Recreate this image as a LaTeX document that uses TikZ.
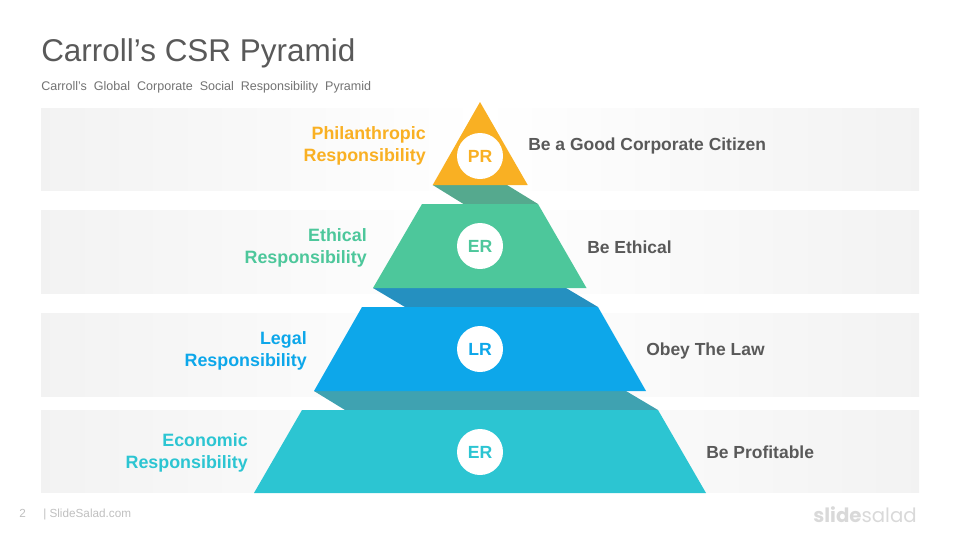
\documentclass[tikz,border=0pt]{standalone}
\usepackage{fontspec}
\setmainfont{Liberation Sans}
\newfontfamily\logofont{Poppins}
\definecolor{prcolor}{HTML}{F9B023}
\definecolor{ercolor}{HTML}{4DC79B}
\definecolor{lrcolor}{HTML}{0DA7EA}
\definecolor{eccolor}{HTML}{2CC5D2}
\definecolor{txtgray}{HTML}{595959}
\tikzset{
	band/.style={left color=black!5, right color=black!5, middle color=white, draw=none},
	badge/.style={circle, fill=white, minimum size=34.5pt, inner sep=0pt, font=\fontsize{13.2}{16}\selectfont\bfseries},
	lefttext/.style={anchor=east, align=right, inner sep=0pt, font=\fontsize{13.4}{16.5}\selectfont\bfseries},
	righttext/.style={anchor=west, inner sep=0pt, text=txtgray, font=\fontsize{13.1}{16}\selectfont\bfseries}
}

\begin{document}
\begin{tikzpicture}[x=0.75pt, y=-0.75pt]
	%%%%% START %%%%%
	\useasboundingbox (0, 0) rectangle (960, 540);
	
	\node[anchor=west, inner sep=0pt, text=txtgray, font=\fontsize{23.6}{28}\selectfont] (title) at (41, 53) {Carroll's CSR Pyramid};
	\node[anchor=west, inner sep=0pt, text=txtgray!85, font=\fontsize{9.4}{11}\selectfont] (subtitle) at (41, 87) {Carroll's\ \ Global\ \ Corporate\ \ Social\ \ Responsibility\ \ Pyramid};
	
	\fill[band] (41, 108) rectangle (919, 190.6);
	\fill[band] (41, 210) rectangle (919, 293.6);
	\fill[band] (41, 313) rectangle (919, 396.6);
	\fill[band] (41, 410) rectangle (919, 492.6);
	
	\fill[color={rgb,255:red,85;green,169;blue,142}] (432.7, 185) -- (463.5, 204) -- (538, 204) -- (507, 185) -- cycle;
	\fill[color={rgb,255:red,37;green,144;blue,192}] (373, 288) -- (405, 307) -- (598, 307) -- (566, 288) -- cycle;
	\fill[color={rgb,255:red,63;green,162;blue,177}] (314, 391) -- (345, 410) -- (658, 410) -- (626, 391) -- cycle;
	
	\fill[prcolor] (480, 102) -- (527.7, 185) -- (432.7, 185) -- cycle;
	\fill[ercolor] (422, 204) -- (538, 204) -- (586.5, 288) -- (373, 288) -- cycle;
	\fill[lrcolor] (362, 307) -- (598, 307) -- (646, 391) -- (314, 391) -- cycle;
	\fill[eccolor] (302, 410) -- (658, 410) -- (706, 493) -- (254, 493) -- cycle;
	
	\node[badge, text=prcolor] (pr) at (480, 156) {PR};
	\node[badge, text=ercolor] (er) at (480, 246) {ER};
	\node[badge, text=lrcolor] (lr) at (480, 349) {LR};
	\node[badge, text=eccolor] (ec) at (480, 452) {ER};
	
	\node[lefttext, text=prcolor] (prtext) at (426, 146) {Philanthropic\\Responsibility};
	\node[lefttext, text=ercolor] (ertext) at (367, 248) {Ethical\\Responsibility};
	\node[lefttext, text=lrcolor] (lrtext) at (307, 351) {Legal\\Responsibility};
	\node[lefttext, text=eccolor] (ectext) at (248, 453) {Economic\\Responsibility};
	
	\node[righttext] (prgoal) at (528, 146) {Be a Good Corporate Citizen};
	\node[righttext] (ergoal) at (587, 247) {Be Ethical};
	\node[righttext] (lrgoal) at (646, 350.5) {Obey The Law};
	\node[righttext] (ecgoal) at (706, 452) {Be Profitable};
	
	\node[anchor=west, inner sep=0pt, text=black!25, font=\fontsize{8.8}{10}\selectfont] (pagenum) at (19, 513.5) {2};
	\node[anchor=west, inner sep=0pt, text=black!25, font=\fontsize{8.8}{10}\selectfont] (footer) at (43, 514) {| SlideSalad.com};
	\node[anchor=east, inner sep=0pt, text=black!15, font=\fontsize{14.8}{20}\selectfont\logofont] (logo) at (917, 515) {\textbf{slide}salad};
	
	%%%%% END %%%%%
\end{tikzpicture}
\end{document}
